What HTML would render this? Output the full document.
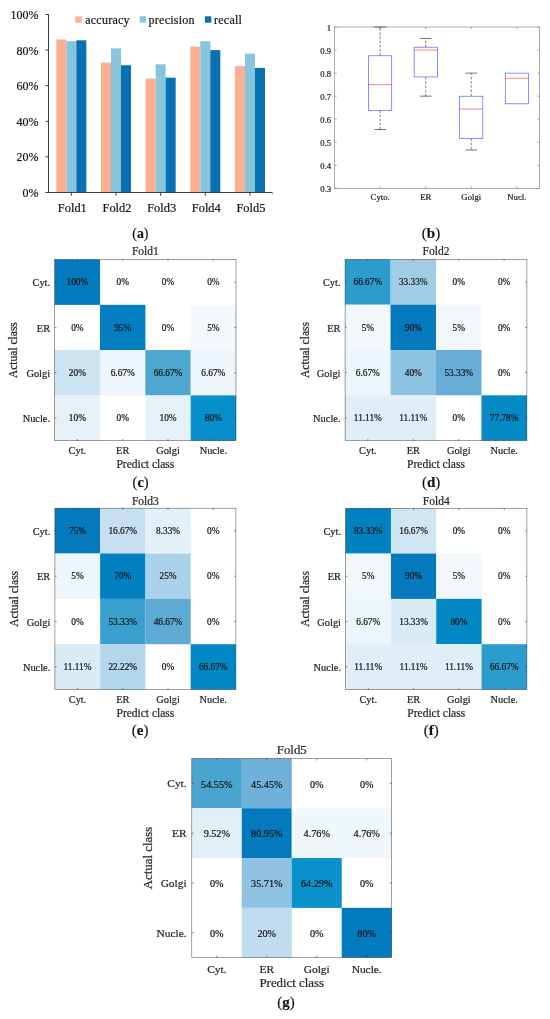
<!DOCTYPE html>
<html lang="en">
<head>
<meta charset="utf-8">
<title>Figure: cross-validation results and confusion matrices</title>
<style>
html,body{margin:0;padding:0;background:#fff;}
body{width:550px;height:1019px;overflow:hidden;}
svg{display:block;}
text{white-space:pre;font-family:"Liberation Serif","DejaVu Serif",serif;stroke:#262626;stroke-width:0.22px;stroke-linejoin:round;}
</style>
</head>
<body>
<svg width="550" height="1019" viewBox="0 0 550 1019" >
<rect x="0.00" y="0.00" width="550.00" height="1019.00" fill="#ffffff"/>
<g id="chart-a" style="stroke:#111;stroke-width:0.3px">
<rect x="56.33" y="39.42" width="10.05" height="153.08" fill="#fcaf91" stroke="none"/>
<rect x="66.33" y="41.20" width="10.05" height="151.30" fill="#88c5dc" stroke="none"/>
<rect x="76.33" y="40.31" width="10.05" height="152.19" fill="#0871b2" stroke="none"/>
<rect x="100.97" y="62.56" width="10.05" height="129.94" fill="#fcaf91" stroke="none"/>
<rect x="110.97" y="48.32" width="10.05" height="144.18" fill="#88c5dc" stroke="none"/>
<rect x="120.97" y="65.23" width="10.05" height="127.27" fill="#0871b2" stroke="none"/>
<rect x="145.62" y="78.58" width="10.05" height="113.92" fill="#fcaf91" stroke="none"/>
<rect x="155.62" y="64.34" width="10.05" height="128.16" fill="#88c5dc" stroke="none"/>
<rect x="165.62" y="77.69" width="10.05" height="114.81" fill="#0871b2" stroke="none"/>
<rect x="190.28" y="46.54" width="10.05" height="145.96" fill="#fcaf91" stroke="none"/>
<rect x="200.28" y="41.20" width="10.05" height="151.30" fill="#88c5dc" stroke="none"/>
<rect x="210.28" y="50.10" width="10.05" height="142.40" fill="#0871b2" stroke="none"/>
<rect x="234.92" y="66.12" width="10.05" height="126.38" fill="#fcaf91" stroke="none"/>
<rect x="244.92" y="53.66" width="10.05" height="138.84" fill="#88c5dc" stroke="none"/>
<rect x="254.92" y="67.90" width="10.05" height="124.60" fill="#0871b2" stroke="none"/>
<line x1="48.50" y1="14.00" x2="48.50" y2="193.00" stroke="#3c3c3c" stroke-width="1"/>
<line x1="48.00" y1="192.50" x2="272.75" y2="192.50" stroke="#3c3c3c" stroke-width="1"/>
<line x1="45.50" y1="192.50" x2="48.50" y2="192.50" stroke="#3c3c3c" stroke-width="1"/>
<text x="38.60" y="196.90" font-size="12" text-anchor="end" fill="#111">0%</text>
<line x1="45.50" y1="156.90" x2="48.50" y2="156.90" stroke="#3c3c3c" stroke-width="1"/>
<text x="38.60" y="161.30" font-size="12" text-anchor="end" fill="#111">20%</text>
<line x1="45.50" y1="121.30" x2="48.50" y2="121.30" stroke="#3c3c3c" stroke-width="1"/>
<text x="38.60" y="125.70" font-size="12" text-anchor="end" fill="#111">40%</text>
<line x1="45.50" y1="85.70" x2="48.50" y2="85.70" stroke="#3c3c3c" stroke-width="1"/>
<text x="38.60" y="90.10" font-size="12" text-anchor="end" fill="#111">60%</text>
<line x1="45.50" y1="50.10" x2="48.50" y2="50.10" stroke="#3c3c3c" stroke-width="1"/>
<text x="38.60" y="54.50" font-size="12" text-anchor="end" fill="#111">80%</text>
<line x1="45.50" y1="14.50" x2="48.50" y2="14.50" stroke="#3c3c3c" stroke-width="1"/>
<text x="38.60" y="18.90" font-size="12" text-anchor="end" fill="#111">100%</text>
<line x1="71.33" y1="192.50" x2="71.33" y2="195.70" stroke="#3c3c3c" stroke-width="1"/>
<text x="72.33" y="212.00" font-size="12.4" text-anchor="middle" fill="#111">Fold1</text>
<line x1="115.97" y1="192.50" x2="115.97" y2="195.70" stroke="#3c3c3c" stroke-width="1"/>
<text x="116.97" y="212.00" font-size="12.4" text-anchor="middle" fill="#111">Fold2</text>
<line x1="160.62" y1="192.50" x2="160.62" y2="195.70" stroke="#3c3c3c" stroke-width="1"/>
<text x="161.62" y="212.00" font-size="12.4" text-anchor="middle" fill="#111">Fold3</text>
<line x1="205.28" y1="192.50" x2="205.28" y2="195.70" stroke="#3c3c3c" stroke-width="1"/>
<text x="206.28" y="212.00" font-size="12.4" text-anchor="middle" fill="#111">Fold4</text>
<line x1="249.92" y1="192.50" x2="249.92" y2="195.70" stroke="#3c3c3c" stroke-width="1"/>
<text x="250.92" y="212.00" font-size="12.4" text-anchor="middle" fill="#111">Fold5</text>
<line x1="272.25" y1="192.50" x2="272.25" y2="195.50" stroke="#bdbdbd" stroke-width="0.8"/>
<rect x="75.30" y="16.30" width="6.4" height="6.4" fill="#fcaf91" stroke="none"/>
<text x="85.20" y="23.90" font-size="12" text-anchor="start" fill="#111" letter-spacing="0.25">accuracy</text>
<rect x="139.70" y="16.30" width="6.4" height="6.4" fill="#88c5dc" stroke="none"/>
<text x="148.60" y="23.90" font-size="12" text-anchor="start" fill="#111" letter-spacing="0.25">precision</text>
<rect x="204.90" y="16.30" width="6.4" height="6.4" fill="#0871b2" stroke="none"/>
<text x="214.00" y="23.90" font-size="12" text-anchor="start" fill="#111" letter-spacing="0.25">recall</text>
</g>
<g id="chart-b" style="stroke-width:0.3px">
<rect x="334.60" y="27.00" width="205.00" height="161.40" fill="#fff" stroke="#262626" stroke-width="0.5" stroke-opacity="0.75"/>
<line x1="334.60" y1="188.40" x2="336.80" y2="188.40" stroke="#262626" stroke-width="0.5" stroke-opacity="0.75"/>
<line x1="537.40" y1="188.40" x2="539.60" y2="188.40" stroke="#262626" stroke-width="0.5" stroke-opacity="0.75"/>
<text x="331.10" y="192.10" font-size="8.6" text-anchor="end" fill="#1a1a1a">0.3</text>
<line x1="334.60" y1="165.34" x2="336.80" y2="165.34" stroke="#262626" stroke-width="0.5" stroke-opacity="0.75"/>
<line x1="537.40" y1="165.34" x2="539.60" y2="165.34" stroke="#262626" stroke-width="0.5" stroke-opacity="0.75"/>
<text x="331.10" y="169.04" font-size="8.6" text-anchor="end" fill="#1a1a1a">0.4</text>
<line x1="334.60" y1="142.29" x2="336.80" y2="142.29" stroke="#262626" stroke-width="0.5" stroke-opacity="0.75"/>
<line x1="537.40" y1="142.29" x2="539.60" y2="142.29" stroke="#262626" stroke-width="0.5" stroke-opacity="0.75"/>
<text x="331.10" y="145.99" font-size="8.6" text-anchor="end" fill="#1a1a1a">0.5</text>
<line x1="334.60" y1="119.23" x2="336.80" y2="119.23" stroke="#262626" stroke-width="0.5" stroke-opacity="0.75"/>
<line x1="537.40" y1="119.23" x2="539.60" y2="119.23" stroke="#262626" stroke-width="0.5" stroke-opacity="0.75"/>
<text x="331.10" y="122.93" font-size="8.6" text-anchor="end" fill="#1a1a1a">0.6</text>
<line x1="334.60" y1="96.17" x2="336.80" y2="96.17" stroke="#262626" stroke-width="0.5" stroke-opacity="0.75"/>
<line x1="537.40" y1="96.17" x2="539.60" y2="96.17" stroke="#262626" stroke-width="0.5" stroke-opacity="0.75"/>
<text x="331.10" y="99.87" font-size="8.6" text-anchor="end" fill="#1a1a1a">0.7</text>
<line x1="334.60" y1="73.11" x2="336.80" y2="73.11" stroke="#262626" stroke-width="0.5" stroke-opacity="0.75"/>
<line x1="537.40" y1="73.11" x2="539.60" y2="73.11" stroke="#262626" stroke-width="0.5" stroke-opacity="0.75"/>
<text x="331.10" y="76.81" font-size="8.6" text-anchor="end" fill="#1a1a1a">0.8</text>
<line x1="334.60" y1="50.06" x2="336.80" y2="50.06" stroke="#262626" stroke-width="0.5" stroke-opacity="0.75"/>
<line x1="537.40" y1="50.06" x2="539.60" y2="50.06" stroke="#262626" stroke-width="0.5" stroke-opacity="0.75"/>
<text x="331.10" y="53.76" font-size="8.6" text-anchor="end" fill="#1a1a1a">0.9</text>
<line x1="334.60" y1="27.00" x2="336.80" y2="27.00" stroke="#262626" stroke-width="0.5" stroke-opacity="0.75"/>
<line x1="537.40" y1="27.00" x2="539.60" y2="27.00" stroke="#262626" stroke-width="0.5" stroke-opacity="0.75"/>
<text x="331.10" y="30.70" font-size="8.6" text-anchor="end" fill="#1a1a1a">1</text>
<line x1="380.16" y1="188.40" x2="380.16" y2="186.20" stroke="#262626" stroke-width="0.5" stroke-opacity="0.75"/>
<line x1="380.16" y1="27.00" x2="380.16" y2="29.20" stroke="#262626" stroke-width="0.5" stroke-opacity="0.75"/>
<text x="380.16" y="199.80" font-size="8.7" text-anchor="middle" fill="#1a1a1a">Cyto.</text>
<line x1="425.71" y1="188.40" x2="425.71" y2="186.20" stroke="#262626" stroke-width="0.5" stroke-opacity="0.75"/>
<line x1="425.71" y1="27.00" x2="425.71" y2="29.20" stroke="#262626" stroke-width="0.5" stroke-opacity="0.75"/>
<text x="425.71" y="199.80" font-size="8.7" text-anchor="middle" fill="#1a1a1a">ER</text>
<line x1="471.27" y1="188.40" x2="471.27" y2="186.20" stroke="#262626" stroke-width="0.5" stroke-opacity="0.75"/>
<line x1="471.27" y1="27.00" x2="471.27" y2="29.20" stroke="#262626" stroke-width="0.5" stroke-opacity="0.75"/>
<text x="471.27" y="199.80" font-size="8.7" text-anchor="middle" fill="#1a1a1a">Golgi</text>
<line x1="516.82" y1="188.40" x2="516.82" y2="186.20" stroke="#262626" stroke-width="0.5" stroke-opacity="0.75"/>
<line x1="516.82" y1="27.00" x2="516.82" y2="29.20" stroke="#262626" stroke-width="0.5" stroke-opacity="0.75"/>
<text x="516.82" y="199.80" font-size="8.7" text-anchor="middle" fill="#1a1a1a">Nucl.</text>
<line x1="380.16" y1="55.82" x2="380.16" y2="27.00" stroke="#333" stroke-width="0.6" stroke-dasharray="2.6 1.6"/>
<line x1="374.36" y1="27.00" x2="385.96" y2="27.00" stroke="#333" stroke-width="0.7"/>
<line x1="380.16" y1="110.26" x2="380.16" y2="129.47" stroke="#333" stroke-width="0.6" stroke-dasharray="2.6 1.6"/>
<line x1="374.36" y1="129.47" x2="385.96" y2="129.47" stroke="#333" stroke-width="0.7"/>
<rect x="368.56" y="55.82" width="23.20" height="54.44" fill="none" stroke="#3030ff" stroke-width="0.55"/>
<line x1="368.56" y1="84.64" x2="391.76" y2="84.64" stroke="#ff3030" stroke-width="0.6"/>
<line x1="425.71" y1="47.17" x2="425.71" y2="38.53" stroke="#333" stroke-width="0.6" stroke-dasharray="2.6 1.6"/>
<line x1="419.91" y1="38.53" x2="431.51" y2="38.53" stroke="#333" stroke-width="0.7"/>
<line x1="425.71" y1="76.96" x2="425.71" y2="96.17" stroke="#333" stroke-width="0.6" stroke-dasharray="2.6 1.6"/>
<line x1="419.91" y1="96.17" x2="431.51" y2="96.17" stroke="#333" stroke-width="0.7"/>
<rect x="414.11" y="47.17" width="23.20" height="29.79" fill="none" stroke="#3030ff" stroke-width="0.55"/>
<line x1="414.11" y1="50.06" x2="437.31" y2="50.06" stroke="#ff3030" stroke-width="0.6"/>
<line x1="471.27" y1="96.17" x2="471.27" y2="73.11" stroke="#333" stroke-width="0.6" stroke-dasharray="2.6 1.6"/>
<line x1="465.47" y1="73.11" x2="477.07" y2="73.11" stroke="#333" stroke-width="0.7"/>
<line x1="471.27" y1="138.44" x2="471.27" y2="149.96" stroke="#333" stroke-width="0.6" stroke-dasharray="2.6 1.6"/>
<line x1="465.47" y1="149.96" x2="477.07" y2="149.96" stroke="#333" stroke-width="0.7"/>
<rect x="459.67" y="96.17" width="23.20" height="42.26" fill="none" stroke="#3030ff" stroke-width="0.55"/>
<line x1="459.67" y1="108.99" x2="482.87" y2="108.99" stroke="#ff3030" stroke-width="0.6"/>
<rect x="505.22" y="73.11" width="23.20" height="30.74" fill="none" stroke="#3030ff" stroke-width="0.55"/>
<line x1="505.22" y1="78.23" x2="528.42" y2="78.23" stroke="#ff3030" stroke-width="0.6"/>
</g>
<g id="cm-c">
<rect x="54.70" y="259.50" width="45.38" height="45.35" fill="#0479be"/>
<rect x="100.03" y="304.80" width="45.38" height="45.35" fill="#037ec0"/>
<rect x="190.68" y="304.80" width="45.33" height="45.35" fill="#f2f8fc"/>
<rect x="54.70" y="350.10" width="45.38" height="45.35" fill="#cce3f2"/>
<rect x="100.03" y="350.10" width="45.38" height="45.35" fill="#eef6fb"/>
<rect x="145.35" y="350.10" width="45.38" height="45.35" fill="#4ca6d0"/>
<rect x="190.68" y="350.10" width="45.33" height="45.35" fill="#eef6fb"/>
<rect x="54.70" y="395.40" width="45.38" height="45.30" fill="#e6f1f8"/>
<rect x="145.35" y="395.40" width="45.38" height="45.30" fill="#e6f1f8"/>
<rect x="190.68" y="395.40" width="45.33" height="45.30" fill="#068fca"/>
<rect x="54.70" y="259.50" width="181.30" height="181.20" fill="none" stroke="#262626" stroke-width="0.55" stroke-opacity="0.8"/>
<line x1="77.36" y1="259.50" x2="77.36" y2="261.30" stroke="#262626" stroke-width="0.5"/>
<line x1="77.36" y1="440.70" x2="77.36" y2="438.90" stroke="#262626" stroke-width="0.5"/>
<line x1="54.70" y1="282.15" x2="56.50" y2="282.15" stroke="#262626" stroke-width="0.5"/>
<line x1="236.00" y1="282.15" x2="234.20" y2="282.15" stroke="#262626" stroke-width="0.5"/>
<line x1="122.69" y1="259.50" x2="122.69" y2="261.30" stroke="#262626" stroke-width="0.5"/>
<line x1="122.69" y1="440.70" x2="122.69" y2="438.90" stroke="#262626" stroke-width="0.5"/>
<line x1="54.70" y1="327.45" x2="56.50" y2="327.45" stroke="#262626" stroke-width="0.5"/>
<line x1="236.00" y1="327.45" x2="234.20" y2="327.45" stroke="#262626" stroke-width="0.5"/>
<line x1="168.01" y1="259.50" x2="168.01" y2="261.30" stroke="#262626" stroke-width="0.5"/>
<line x1="168.01" y1="440.70" x2="168.01" y2="438.90" stroke="#262626" stroke-width="0.5"/>
<line x1="54.70" y1="372.75" x2="56.50" y2="372.75" stroke="#262626" stroke-width="0.5"/>
<line x1="236.00" y1="372.75" x2="234.20" y2="372.75" stroke="#262626" stroke-width="0.5"/>
<line x1="213.34" y1="259.50" x2="213.34" y2="261.30" stroke="#262626" stroke-width="0.5"/>
<line x1="213.34" y1="440.70" x2="213.34" y2="438.90" stroke="#262626" stroke-width="0.5"/>
<line x1="54.70" y1="418.05" x2="56.50" y2="418.05" stroke="#262626" stroke-width="0.5"/>
<line x1="236.00" y1="418.05" x2="234.20" y2="418.05" stroke="#262626" stroke-width="0.5"/>
<text x="77.36" y="285.30" font-size="9.3" text-anchor="middle" fill="#0a0a0a">100%</text>
<text x="122.69" y="285.30" font-size="9.3" text-anchor="middle" fill="#0a0a0a">0%</text>
<text x="168.01" y="285.30" font-size="9.3" text-anchor="middle" fill="#0a0a0a">0%</text>
<text x="213.34" y="285.30" font-size="9.3" text-anchor="middle" fill="#0a0a0a">0%</text>
<text x="77.36" y="330.60" font-size="9.3" text-anchor="middle" fill="#0a0a0a">0%</text>
<text x="122.69" y="330.60" font-size="9.3" text-anchor="middle" fill="#0a0a0a">95%</text>
<text x="168.01" y="330.60" font-size="9.3" text-anchor="middle" fill="#0a0a0a">0%</text>
<text x="213.34" y="330.60" font-size="9.3" text-anchor="middle" fill="#0a0a0a">5%</text>
<text x="77.36" y="375.90" font-size="9.3" text-anchor="middle" fill="#0a0a0a">20%</text>
<text x="122.69" y="375.90" font-size="9.3" text-anchor="middle" fill="#0a0a0a">6.67%</text>
<text x="168.01" y="375.90" font-size="9.3" text-anchor="middle" fill="#0a0a0a">66.67%</text>
<text x="213.34" y="375.90" font-size="9.3" text-anchor="middle" fill="#0a0a0a">6.67%</text>
<text x="77.36" y="421.20" font-size="9.3" text-anchor="middle" fill="#0a0a0a">10%</text>
<text x="122.69" y="421.20" font-size="9.3" text-anchor="middle" fill="#0a0a0a">0%</text>
<text x="168.01" y="421.20" font-size="9.3" text-anchor="middle" fill="#0a0a0a">10%</text>
<text x="213.34" y="421.20" font-size="9.3" text-anchor="middle" fill="#0a0a0a">80%</text>
<text x="50.10" y="286.31" font-size="10.4" text-anchor="end" fill="#262626">Cyt.</text>
<text x="77.36" y="454.20" font-size="10.4" text-anchor="middle" fill="#262626">Cyt.</text>
<text x="50.10" y="331.61" font-size="10.4" text-anchor="end" fill="#262626">ER</text>
<text x="122.69" y="454.20" font-size="10.4" text-anchor="middle" fill="#262626">ER</text>
<text x="50.10" y="376.91" font-size="10.4" text-anchor="end" fill="#262626">Golgi</text>
<text x="168.01" y="454.20" font-size="10.4" text-anchor="middle" fill="#262626">Golgi</text>
<text x="50.10" y="422.21" font-size="10.4" text-anchor="end" fill="#262626">Nucle.</text>
<text x="213.34" y="454.20" font-size="10.4" text-anchor="middle" fill="#262626">Nucle.</text>
<text x="145.35" y="255.40" font-size="11.5" text-anchor="middle" fill="#262626">Fold1</text>
<text x="145.35" y="468.10" font-size="11.5" text-anchor="middle" fill="#262626">Predict class</text>
<text transform="translate(17.30,350.10) rotate(-90)" font-size="11.5" text-anchor="middle" fill="#262626">Actual class</text>
</g>
<g id="cm-d">
<rect x="345.10" y="259.40" width="45.50" height="45.35" fill="#2c9ccc"/>
<rect x="390.55" y="259.40" width="45.50" height="45.35" fill="#a1cce7"/>
<rect x="345.10" y="304.70" width="45.50" height="45.35" fill="#f1f7fb"/>
<rect x="390.55" y="304.70" width="45.50" height="45.35" fill="#0479be"/>
<rect x="436.00" y="304.70" width="45.50" height="45.35" fill="#f1f7fb"/>
<rect x="345.10" y="350.00" width="45.50" height="45.35" fill="#ecf5fa"/>
<rect x="390.55" y="350.00" width="45.50" height="45.35" fill="#8ec2e2"/>
<rect x="436.00" y="350.00" width="45.50" height="45.35" fill="#68add8"/>
<rect x="345.10" y="395.30" width="45.50" height="45.30" fill="#e0eef7"/>
<rect x="390.55" y="395.30" width="45.50" height="45.30" fill="#e0eef7"/>
<rect x="481.45" y="395.30" width="45.45" height="45.30" fill="#058ac6"/>
<rect x="345.10" y="259.40" width="181.80" height="181.20" fill="none" stroke="#262626" stroke-width="0.55" stroke-opacity="0.8"/>
<line x1="367.83" y1="259.40" x2="367.83" y2="261.20" stroke="#262626" stroke-width="0.5"/>
<line x1="367.83" y1="440.60" x2="367.83" y2="438.80" stroke="#262626" stroke-width="0.5"/>
<line x1="345.10" y1="282.05" x2="346.90" y2="282.05" stroke="#262626" stroke-width="0.5"/>
<line x1="526.90" y1="282.05" x2="525.10" y2="282.05" stroke="#262626" stroke-width="0.5"/>
<line x1="413.27" y1="259.40" x2="413.27" y2="261.20" stroke="#262626" stroke-width="0.5"/>
<line x1="413.27" y1="440.60" x2="413.27" y2="438.80" stroke="#262626" stroke-width="0.5"/>
<line x1="345.10" y1="327.35" x2="346.90" y2="327.35" stroke="#262626" stroke-width="0.5"/>
<line x1="526.90" y1="327.35" x2="525.10" y2="327.35" stroke="#262626" stroke-width="0.5"/>
<line x1="458.73" y1="259.40" x2="458.73" y2="261.20" stroke="#262626" stroke-width="0.5"/>
<line x1="458.73" y1="440.60" x2="458.73" y2="438.80" stroke="#262626" stroke-width="0.5"/>
<line x1="345.10" y1="372.65" x2="346.90" y2="372.65" stroke="#262626" stroke-width="0.5"/>
<line x1="526.90" y1="372.65" x2="525.10" y2="372.65" stroke="#262626" stroke-width="0.5"/>
<line x1="504.17" y1="259.40" x2="504.17" y2="261.20" stroke="#262626" stroke-width="0.5"/>
<line x1="504.17" y1="440.60" x2="504.17" y2="438.80" stroke="#262626" stroke-width="0.5"/>
<line x1="345.10" y1="417.95" x2="346.90" y2="417.95" stroke="#262626" stroke-width="0.5"/>
<line x1="526.90" y1="417.95" x2="525.10" y2="417.95" stroke="#262626" stroke-width="0.5"/>
<text x="367.83" y="285.20" font-size="9.3" text-anchor="middle" fill="#0a0a0a">66.67%</text>
<text x="413.27" y="285.20" font-size="9.3" text-anchor="middle" fill="#0a0a0a">33.33%</text>
<text x="458.73" y="285.20" font-size="9.3" text-anchor="middle" fill="#0a0a0a">0%</text>
<text x="504.17" y="285.20" font-size="9.3" text-anchor="middle" fill="#0a0a0a">0%</text>
<text x="367.83" y="330.50" font-size="9.3" text-anchor="middle" fill="#0a0a0a">5%</text>
<text x="413.27" y="330.50" font-size="9.3" text-anchor="middle" fill="#0a0a0a">90%</text>
<text x="458.73" y="330.50" font-size="9.3" text-anchor="middle" fill="#0a0a0a">5%</text>
<text x="504.17" y="330.50" font-size="9.3" text-anchor="middle" fill="#0a0a0a">0%</text>
<text x="367.83" y="375.80" font-size="9.3" text-anchor="middle" fill="#0a0a0a">6.67%</text>
<text x="413.27" y="375.80" font-size="9.3" text-anchor="middle" fill="#0a0a0a">40%</text>
<text x="458.73" y="375.80" font-size="9.3" text-anchor="middle" fill="#0a0a0a">53.33%</text>
<text x="504.17" y="375.80" font-size="9.3" text-anchor="middle" fill="#0a0a0a">0%</text>
<text x="367.83" y="421.10" font-size="9.3" text-anchor="middle" fill="#0a0a0a">11.11%</text>
<text x="413.27" y="421.10" font-size="9.3" text-anchor="middle" fill="#0a0a0a">11.11%</text>
<text x="458.73" y="421.10" font-size="9.3" text-anchor="middle" fill="#0a0a0a">0%</text>
<text x="504.17" y="421.10" font-size="9.3" text-anchor="middle" fill="#0a0a0a">77.78%</text>
<text x="340.50" y="286.21" font-size="10.4" text-anchor="end" fill="#262626">Cyt.</text>
<text x="367.83" y="454.10" font-size="10.4" text-anchor="middle" fill="#262626">Cyt.</text>
<text x="340.50" y="331.51" font-size="10.4" text-anchor="end" fill="#262626">ER</text>
<text x="413.27" y="454.10" font-size="10.4" text-anchor="middle" fill="#262626">ER</text>
<text x="340.50" y="376.81" font-size="10.4" text-anchor="end" fill="#262626">Golgi</text>
<text x="458.73" y="454.10" font-size="10.4" text-anchor="middle" fill="#262626">Golgi</text>
<text x="340.50" y="422.11" font-size="10.4" text-anchor="end" fill="#262626">Nucle.</text>
<text x="504.17" y="454.10" font-size="10.4" text-anchor="middle" fill="#262626">Nucle.</text>
<text x="436.00" y="255.40" font-size="11.5" text-anchor="middle" fill="#262626">Fold2</text>
<text x="436.00" y="468.00" font-size="11.5" text-anchor="middle" fill="#262626">Predict class</text>
<text transform="translate(308.70,350.00) rotate(-90)" font-size="11.5" text-anchor="middle" fill="#262626">Actual class</text>
</g>
<g id="cm-e">
<rect x="54.90" y="508.20" width="45.30" height="45.38" fill="#0479be"/>
<rect x="100.15" y="508.20" width="45.30" height="45.38" fill="#c6e0f1"/>
<rect x="145.40" y="508.20" width="45.30" height="45.38" fill="#e3f0f8"/>
<rect x="54.90" y="553.52" width="45.30" height="45.38" fill="#eef6fb"/>
<rect x="100.15" y="553.52" width="45.30" height="45.38" fill="#0280c1"/>
<rect x="145.40" y="553.52" width="45.30" height="45.38" fill="#aad1e9"/>
<rect x="100.15" y="598.85" width="45.30" height="45.38" fill="#39a0ce"/>
<rect x="145.40" y="598.85" width="45.30" height="45.38" fill="#5daad5"/>
<rect x="54.90" y="644.17" width="45.30" height="45.33" fill="#d9ebf5"/>
<rect x="100.15" y="644.17" width="45.30" height="45.33" fill="#b3d6ec"/>
<rect x="190.65" y="644.17" width="45.25" height="45.33" fill="#0388c6"/>
<rect x="54.90" y="508.20" width="181.00" height="181.30" fill="none" stroke="#262626" stroke-width="0.55" stroke-opacity="0.8"/>
<line x1="77.53" y1="508.20" x2="77.53" y2="510.00" stroke="#262626" stroke-width="0.5"/>
<line x1="77.53" y1="689.50" x2="77.53" y2="687.70" stroke="#262626" stroke-width="0.5"/>
<line x1="54.90" y1="530.86" x2="56.70" y2="530.86" stroke="#262626" stroke-width="0.5"/>
<line x1="235.90" y1="530.86" x2="234.10" y2="530.86" stroke="#262626" stroke-width="0.5"/>
<line x1="122.78" y1="508.20" x2="122.78" y2="510.00" stroke="#262626" stroke-width="0.5"/>
<line x1="122.78" y1="689.50" x2="122.78" y2="687.70" stroke="#262626" stroke-width="0.5"/>
<line x1="54.90" y1="576.19" x2="56.70" y2="576.19" stroke="#262626" stroke-width="0.5"/>
<line x1="235.90" y1="576.19" x2="234.10" y2="576.19" stroke="#262626" stroke-width="0.5"/>
<line x1="168.03" y1="508.20" x2="168.03" y2="510.00" stroke="#262626" stroke-width="0.5"/>
<line x1="168.03" y1="689.50" x2="168.03" y2="687.70" stroke="#262626" stroke-width="0.5"/>
<line x1="54.90" y1="621.51" x2="56.70" y2="621.51" stroke="#262626" stroke-width="0.5"/>
<line x1="235.90" y1="621.51" x2="234.10" y2="621.51" stroke="#262626" stroke-width="0.5"/>
<line x1="213.28" y1="508.20" x2="213.28" y2="510.00" stroke="#262626" stroke-width="0.5"/>
<line x1="213.28" y1="689.50" x2="213.28" y2="687.70" stroke="#262626" stroke-width="0.5"/>
<line x1="54.90" y1="666.84" x2="56.70" y2="666.84" stroke="#262626" stroke-width="0.5"/>
<line x1="235.90" y1="666.84" x2="234.10" y2="666.84" stroke="#262626" stroke-width="0.5"/>
<text x="77.53" y="534.01" font-size="9.3" text-anchor="middle" fill="#0a0a0a">75%</text>
<text x="122.78" y="534.01" font-size="9.3" text-anchor="middle" fill="#0a0a0a">16.67%</text>
<text x="168.03" y="534.01" font-size="9.3" text-anchor="middle" fill="#0a0a0a">8.33%</text>
<text x="213.28" y="534.01" font-size="9.3" text-anchor="middle" fill="#0a0a0a">0%</text>
<text x="77.53" y="579.34" font-size="9.3" text-anchor="middle" fill="#0a0a0a">5%</text>
<text x="122.78" y="579.34" font-size="9.3" text-anchor="middle" fill="#0a0a0a">70%</text>
<text x="168.03" y="579.34" font-size="9.3" text-anchor="middle" fill="#0a0a0a">25%</text>
<text x="213.28" y="579.34" font-size="9.3" text-anchor="middle" fill="#0a0a0a">0%</text>
<text x="77.53" y="624.66" font-size="9.3" text-anchor="middle" fill="#0a0a0a">0%</text>
<text x="122.78" y="624.66" font-size="9.3" text-anchor="middle" fill="#0a0a0a">53.33%</text>
<text x="168.03" y="624.66" font-size="9.3" text-anchor="middle" fill="#0a0a0a">46.67%</text>
<text x="213.28" y="624.66" font-size="9.3" text-anchor="middle" fill="#0a0a0a">0%</text>
<text x="77.53" y="669.99" font-size="9.3" text-anchor="middle" fill="#0a0a0a">11.11%</text>
<text x="122.78" y="669.99" font-size="9.3" text-anchor="middle" fill="#0a0a0a">22.22%</text>
<text x="168.03" y="669.99" font-size="9.3" text-anchor="middle" fill="#0a0a0a">0%</text>
<text x="213.28" y="669.99" font-size="9.3" text-anchor="middle" fill="#0a0a0a">66.67%</text>
<text x="50.30" y="535.02" font-size="10.4" text-anchor="end" fill="#262626">Cyt.</text>
<text x="77.53" y="702.70" font-size="10.4" text-anchor="middle" fill="#262626">Cyt.</text>
<text x="50.30" y="580.35" font-size="10.4" text-anchor="end" fill="#262626">ER</text>
<text x="122.78" y="702.70" font-size="10.4" text-anchor="middle" fill="#262626">ER</text>
<text x="50.30" y="625.67" font-size="10.4" text-anchor="end" fill="#262626">Golgi</text>
<text x="168.03" y="702.70" font-size="10.4" text-anchor="middle" fill="#262626">Golgi</text>
<text x="50.30" y="671.00" font-size="10.4" text-anchor="end" fill="#262626">Nucle.</text>
<text x="213.28" y="702.70" font-size="10.4" text-anchor="middle" fill="#262626">Nucle.</text>
<text x="145.40" y="504.50" font-size="11.5" text-anchor="middle" fill="#262626">Fold3</text>
<text x="145.40" y="716.80" font-size="11.5" text-anchor="middle" fill="#262626">Predict class</text>
<text transform="translate(17.50,598.85) rotate(-90)" font-size="11.5" text-anchor="middle" fill="#262626">Actual class</text>
</g>
<g id="cm-f">
<rect x="345.60" y="508.30" width="45.37" height="45.35" fill="#0281c2"/>
<rect x="390.93" y="508.30" width="45.37" height="45.35" fill="#d0e5f3"/>
<rect x="345.60" y="553.60" width="45.37" height="45.35" fill="#f1f7fb"/>
<rect x="390.93" y="553.60" width="45.37" height="45.35" fill="#0479be"/>
<rect x="436.25" y="553.60" width="45.37" height="45.35" fill="#f1f7fb"/>
<rect x="345.60" y="598.90" width="45.37" height="45.35" fill="#ecf5fa"/>
<rect x="390.93" y="598.90" width="45.37" height="45.35" fill="#d9ebf5"/>
<rect x="436.25" y="598.90" width="45.37" height="45.35" fill="#0388c6"/>
<rect x="345.60" y="644.20" width="45.37" height="45.30" fill="#e0eef7"/>
<rect x="390.93" y="644.20" width="45.37" height="45.30" fill="#e0eef7"/>
<rect x="436.25" y="644.20" width="45.37" height="45.30" fill="#e0eef7"/>
<rect x="481.57" y="644.20" width="45.32" height="45.30" fill="#2c9ccc"/>
<rect x="345.60" y="508.30" width="181.30" height="181.20" fill="none" stroke="#262626" stroke-width="0.55" stroke-opacity="0.8"/>
<line x1="368.26" y1="508.30" x2="368.26" y2="510.10" stroke="#262626" stroke-width="0.5"/>
<line x1="368.26" y1="689.50" x2="368.26" y2="687.70" stroke="#262626" stroke-width="0.5"/>
<line x1="345.60" y1="530.95" x2="347.40" y2="530.95" stroke="#262626" stroke-width="0.5"/>
<line x1="526.90" y1="530.95" x2="525.10" y2="530.95" stroke="#262626" stroke-width="0.5"/>
<line x1="413.59" y1="508.30" x2="413.59" y2="510.10" stroke="#262626" stroke-width="0.5"/>
<line x1="413.59" y1="689.50" x2="413.59" y2="687.70" stroke="#262626" stroke-width="0.5"/>
<line x1="345.60" y1="576.25" x2="347.40" y2="576.25" stroke="#262626" stroke-width="0.5"/>
<line x1="526.90" y1="576.25" x2="525.10" y2="576.25" stroke="#262626" stroke-width="0.5"/>
<line x1="458.91" y1="508.30" x2="458.91" y2="510.10" stroke="#262626" stroke-width="0.5"/>
<line x1="458.91" y1="689.50" x2="458.91" y2="687.70" stroke="#262626" stroke-width="0.5"/>
<line x1="345.60" y1="621.55" x2="347.40" y2="621.55" stroke="#262626" stroke-width="0.5"/>
<line x1="526.90" y1="621.55" x2="525.10" y2="621.55" stroke="#262626" stroke-width="0.5"/>
<line x1="504.24" y1="508.30" x2="504.24" y2="510.10" stroke="#262626" stroke-width="0.5"/>
<line x1="504.24" y1="689.50" x2="504.24" y2="687.70" stroke="#262626" stroke-width="0.5"/>
<line x1="345.60" y1="666.85" x2="347.40" y2="666.85" stroke="#262626" stroke-width="0.5"/>
<line x1="526.90" y1="666.85" x2="525.10" y2="666.85" stroke="#262626" stroke-width="0.5"/>
<text x="368.26" y="534.10" font-size="9.3" text-anchor="middle" fill="#0a0a0a">83.33%</text>
<text x="413.59" y="534.10" font-size="9.3" text-anchor="middle" fill="#0a0a0a">16.67%</text>
<text x="458.91" y="534.10" font-size="9.3" text-anchor="middle" fill="#0a0a0a">0%</text>
<text x="504.24" y="534.10" font-size="9.3" text-anchor="middle" fill="#0a0a0a">0%</text>
<text x="368.26" y="579.40" font-size="9.3" text-anchor="middle" fill="#0a0a0a">5%</text>
<text x="413.59" y="579.40" font-size="9.3" text-anchor="middle" fill="#0a0a0a">90%</text>
<text x="458.91" y="579.40" font-size="9.3" text-anchor="middle" fill="#0a0a0a">5%</text>
<text x="504.24" y="579.40" font-size="9.3" text-anchor="middle" fill="#0a0a0a">0%</text>
<text x="368.26" y="624.70" font-size="9.3" text-anchor="middle" fill="#0a0a0a">6.67%</text>
<text x="413.59" y="624.70" font-size="9.3" text-anchor="middle" fill="#0a0a0a">13.33%</text>
<text x="458.91" y="624.70" font-size="9.3" text-anchor="middle" fill="#0a0a0a">80%</text>
<text x="504.24" y="624.70" font-size="9.3" text-anchor="middle" fill="#0a0a0a">0%</text>
<text x="368.26" y="670.00" font-size="9.3" text-anchor="middle" fill="#0a0a0a">11.11%</text>
<text x="413.59" y="670.00" font-size="9.3" text-anchor="middle" fill="#0a0a0a">11.11%</text>
<text x="458.91" y="670.00" font-size="9.3" text-anchor="middle" fill="#0a0a0a">11.11%</text>
<text x="504.24" y="670.00" font-size="9.3" text-anchor="middle" fill="#0a0a0a">66.67%</text>
<text x="341.00" y="535.11" font-size="10.4" text-anchor="end" fill="#262626">Cyt.</text>
<text x="368.26" y="702.90" font-size="10.4" text-anchor="middle" fill="#262626">Cyt.</text>
<text x="341.00" y="580.41" font-size="10.4" text-anchor="end" fill="#262626">ER</text>
<text x="413.59" y="702.90" font-size="10.4" text-anchor="middle" fill="#262626">ER</text>
<text x="341.00" y="625.71" font-size="10.4" text-anchor="end" fill="#262626">Golgi</text>
<text x="458.91" y="702.90" font-size="10.4" text-anchor="middle" fill="#262626">Golgi</text>
<text x="341.00" y="671.01" font-size="10.4" text-anchor="end" fill="#262626">Nucle.</text>
<text x="504.24" y="702.90" font-size="10.4" text-anchor="middle" fill="#262626">Nucle.</text>
<text x="436.25" y="504.50" font-size="11.5" text-anchor="middle" fill="#262626">Fold4</text>
<text x="436.25" y="716.80" font-size="11.5" text-anchor="middle" fill="#262626">Predict class</text>
<text transform="translate(308.60,598.90) rotate(-90)" font-size="11.5" text-anchor="middle" fill="#262626">Actual class</text>
</g>
<g id="cm-g">
<rect x="191.80" y="758.50" width="50.02" height="49.83" fill="#49a5d0"/>
<rect x="241.78" y="758.50" width="50.02" height="49.83" fill="#70b1db"/>
<rect x="191.80" y="808.27" width="50.02" height="49.83" fill="#e1eff7"/>
<rect x="241.78" y="808.27" width="50.02" height="49.83" fill="#0479be"/>
<rect x="291.75" y="808.27" width="50.02" height="49.83" fill="#f0f7fb"/>
<rect x="341.73" y="808.27" width="49.97" height="49.83" fill="#f0f7fb"/>
<rect x="241.78" y="858.05" width="50.02" height="49.83" fill="#8fc2e2"/>
<rect x="291.75" y="858.05" width="50.02" height="49.83" fill="#0a90ca"/>
<rect x="241.78" y="907.83" width="50.02" height="49.78" fill="#c0ddef"/>
<rect x="341.73" y="907.83" width="49.97" height="49.78" fill="#047abf"/>
<rect x="191.80" y="758.50" width="199.90" height="199.10" fill="none" stroke="#262626" stroke-width="0.55" stroke-opacity="0.8"/>
<line x1="216.79" y1="758.50" x2="216.79" y2="760.50" stroke="#262626" stroke-width="0.5"/>
<line x1="216.79" y1="957.60" x2="216.79" y2="955.60" stroke="#262626" stroke-width="0.5"/>
<line x1="191.80" y1="783.39" x2="193.80" y2="783.39" stroke="#262626" stroke-width="0.5"/>
<line x1="391.70" y1="783.39" x2="389.70" y2="783.39" stroke="#262626" stroke-width="0.5"/>
<line x1="266.76" y1="758.50" x2="266.76" y2="760.50" stroke="#262626" stroke-width="0.5"/>
<line x1="266.76" y1="957.60" x2="266.76" y2="955.60" stroke="#262626" stroke-width="0.5"/>
<line x1="191.80" y1="833.16" x2="193.80" y2="833.16" stroke="#262626" stroke-width="0.5"/>
<line x1="391.70" y1="833.16" x2="389.70" y2="833.16" stroke="#262626" stroke-width="0.5"/>
<line x1="316.74" y1="758.50" x2="316.74" y2="760.50" stroke="#262626" stroke-width="0.5"/>
<line x1="316.74" y1="957.60" x2="316.74" y2="955.60" stroke="#262626" stroke-width="0.5"/>
<line x1="191.80" y1="882.94" x2="193.80" y2="882.94" stroke="#262626" stroke-width="0.5"/>
<line x1="391.70" y1="882.94" x2="389.70" y2="882.94" stroke="#262626" stroke-width="0.5"/>
<line x1="366.71" y1="758.50" x2="366.71" y2="760.50" stroke="#262626" stroke-width="0.5"/>
<line x1="366.71" y1="957.60" x2="366.71" y2="955.60" stroke="#262626" stroke-width="0.5"/>
<line x1="191.80" y1="932.71" x2="193.80" y2="932.71" stroke="#262626" stroke-width="0.5"/>
<line x1="391.70" y1="932.71" x2="389.70" y2="932.71" stroke="#262626" stroke-width="0.5"/>
<text x="216.79" y="787.66" font-size="10.2" text-anchor="middle" fill="#0a0a0a">54.55%</text>
<text x="266.76" y="787.66" font-size="10.2" text-anchor="middle" fill="#0a0a0a">45.45%</text>
<text x="316.74" y="787.66" font-size="10.2" text-anchor="middle" fill="#0a0a0a">0%</text>
<text x="366.71" y="787.66" font-size="10.2" text-anchor="middle" fill="#0a0a0a">0%</text>
<text x="216.79" y="837.43" font-size="10.2" text-anchor="middle" fill="#0a0a0a">9.52%</text>
<text x="266.76" y="837.43" font-size="10.2" text-anchor="middle" fill="#0a0a0a">80.95%</text>
<text x="316.74" y="837.43" font-size="10.2" text-anchor="middle" fill="#0a0a0a">4.76%</text>
<text x="366.71" y="837.43" font-size="10.2" text-anchor="middle" fill="#0a0a0a">4.76%</text>
<text x="216.79" y="887.21" font-size="10.2" text-anchor="middle" fill="#0a0a0a">0%</text>
<text x="266.76" y="887.21" font-size="10.2" text-anchor="middle" fill="#0a0a0a">35.71%</text>
<text x="316.74" y="887.21" font-size="10.2" text-anchor="middle" fill="#0a0a0a">64.29%</text>
<text x="366.71" y="887.21" font-size="10.2" text-anchor="middle" fill="#0a0a0a">0%</text>
<text x="216.79" y="936.98" font-size="10.2" text-anchor="middle" fill="#0a0a0a">0%</text>
<text x="266.76" y="936.98" font-size="10.2" text-anchor="middle" fill="#0a0a0a">20%</text>
<text x="316.74" y="936.98" font-size="10.2" text-anchor="middle" fill="#0a0a0a">0%</text>
<text x="366.71" y="936.98" font-size="10.2" text-anchor="middle" fill="#0a0a0a">80%</text>
<text x="186.60" y="787.43" font-size="11.4" text-anchor="end" fill="#262626">Cyt.</text>
<text x="216.79" y="973.20" font-size="11.4" text-anchor="middle" fill="#262626">Cyt.</text>
<text x="186.60" y="837.21" font-size="11.4" text-anchor="end" fill="#262626">ER</text>
<text x="266.76" y="973.20" font-size="11.4" text-anchor="middle" fill="#262626">ER</text>
<text x="186.60" y="886.98" font-size="11.4" text-anchor="end" fill="#262626">Golgi</text>
<text x="316.74" y="973.20" font-size="11.4" text-anchor="middle" fill="#262626">Golgi</text>
<text x="186.60" y="936.76" font-size="11.4" text-anchor="end" fill="#262626">Nucle.</text>
<text x="366.71" y="973.20" font-size="11.4" text-anchor="middle" fill="#262626">Nucle.</text>
<text x="291.75" y="753.80" font-size="12.85" text-anchor="middle" fill="#262626">Fold5</text>
<text x="291.75" y="987.40" font-size="12.85" text-anchor="middle" fill="#262626">Predict class</text>
<text transform="translate(151.90,858.05) rotate(-90)" font-size="12.85" text-anchor="middle" fill="#262626">Actual class</text>
</g>
<text x="140.40" y="237.60" font-size="13.8" text-anchor="middle" fill="#111" style="stroke:#111;stroke-width:0.15px">(<tspan font-weight="bold">a</tspan>)</text>
<text x="431.00" y="237.50" font-size="15" text-anchor="middle" fill="#111" style="stroke:#111;stroke-width:0.15px">(<tspan font-weight="bold">b</tspan>)</text>
<text x="140.60" y="487.20" font-size="14.5" text-anchor="middle" fill="#111" style="stroke:#111;stroke-width:0.15px">(<tspan font-weight="bold">c</tspan>)</text>
<text x="431.20" y="487.40" font-size="15" text-anchor="middle" fill="#111" style="stroke:#111;stroke-width:0.15px">(<tspan font-weight="bold">d</tspan>)</text>
<text x="140.20" y="735.40" font-size="15" text-anchor="middle" fill="#111" style="stroke:#111;stroke-width:0.15px">(<tspan font-weight="bold">e</tspan>)</text>
<text x="431.20" y="735.40" font-size="15" text-anchor="middle" fill="#111" style="stroke:#111;stroke-width:0.15px">(<tspan font-weight="bold">f</tspan>)</text>
<text x="285.90" y="1006.50" font-size="15" text-anchor="middle" fill="#111" style="stroke:#111;stroke-width:0.15px">(<tspan font-weight="bold">g</tspan>)</text>
</svg>
</body>
</html>
